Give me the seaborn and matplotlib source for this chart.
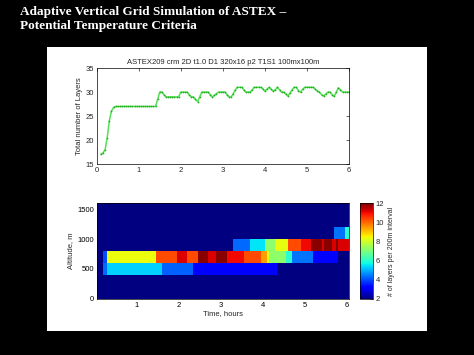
import numpy as np
import pandas as pd
import seaborn as sns
import matplotlib.pyplot as plt
from matplotlib.patches import Rectangle

# ---- top panel: total number of layers, sampled every 0.05 h from 0.10 h
t_start, t_step = 0.10, 0.05
n_layers = [
    17.0, 17.3, 18.0, 20.5, 24.0, 26.0, 26.8, 27.0,            # 0.10-0.45
    27, 27, 27, 27, 27, 27, 27, 27, 27, 27,                    # 0.50-0.95
    27, 27, 27, 27, 27, 27, 27, 27, 27,                        # 1.00-1.40
    28.5, 30, 30, 29.5, 29, 29, 29, 29, 29, 29, 29,            # 1.45-1.95
    30, 30, 30, 30, 29.5, 29, 29, 28.5, 28, 29,                # 2.00-2.45
    30, 30, 30, 30, 29.5, 29, 29.3, 29.7, 30, 30,              # 2.50-2.95
    30, 30, 29.5, 29, 29, 29.7, 30.5, 31, 31, 31,              # 3.00-3.45
    30.5, 30, 30, 30, 30.5, 31, 31, 31, 31, 30.7,              # 3.50-3.95
    30.2, 30.6, 31, 30.6, 30.2, 30.5, 31, 30.5, 30, 30,        # 4.00-4.45
    29.6, 29.2, 29.8, 30.5, 31, 31, 30.3, 30, 30.6, 31,        # 4.50-4.95
    31, 31, 31, 31, 30.6, 30.3, 30, 29.5, 29.2, 29.6,          # 5.00-5.45
    30, 30, 29.5, 29.1, 30, 30.9, 30.5, 30, 30, 30, 30,        # 5.50-6.00
]
hours = [round(t_start + t_step * i, 2) for i in range(len(n_layers))]

# ---- bottom panel: layers per 200 m interval, (start h, end h, count)
alt_edges = [0, 200, 400, 600, 800, 1000, 1200, 1400, 1600]
t_edges = [round(0.05 + 0.05 * i, 2) for i in range(121)]  # 0.05 .. 6.05
background = 2.0
row_400 = [(0.20, 0.30, 4.3), (0.30, 1.62, 5.3), (1.62, 2.37, 4.2),
           (2.37, 4.36, 3.1)]
row_600 = [(0.20, 0.30, 4.0), (0.30, 1.47, 8.35), (1.47, 1.95, 10.3),
           (1.95, 2.21, 11.2), (2.21, 2.47, 10.3), (2.47, 2.72, 11.9),
           (2.72, 2.88, 11.2), (2.88, 3.14, 11.9), (3.14, 3.53, 11.0),
           (3.53, 3.97, 10.3), (3.97, 4.09, 9.4), (4.09, 4.15, 8.3),
           (4.15, 4.54, 7.2), (4.54, 4.70, 6.0), (4.70, 5.19, 4.4),
           (5.19, 5.79, 3.2)]
row_800 = [(3.29, 3.71, 4.3), (3.71, 4.05, 5.5), (4.05, 4.28, 7.2),
           (4.28, 4.62, 8.3), (4.62, 4.88, 10.3), (4.88, 5.13, 11.0),
           (5.13, 5.39, 11.9), (5.39, 5.47, 11.2), (5.47, 5.63, 11.9),
           (5.63, 5.75, 11.2), (5.75, 5.81, 11.9), (5.81, 6.05, 11.2)]
row_1000 = [(5.71, 5.97, 4.4), (5.97, 6.05, 6.0)]
rows = {400: row_400, 600: row_600, 800: row_800, 1000: row_1000}

# build grid (rows = altitude bins, bottom first)
centers = np.array(t_edges[:-1]) + 0.025
grid = np.full((len(alt_edges) - 1, len(centers)), background)
for alt, segs in rows.items():
    r = alt_edges.index(alt)
    for a, b, v in segs:
        grid[r, (centers >= a) & (centers < b)] = v
df = pd.DataFrame(grid[::-1], index=alt_edges[-2::-1], columns=centers)

sns.set_style('white')
plt.rcParams['font.family'] = ['Liberation Sans', 'DejaVu Sans']
plt.rcParams['xtick.direction'] = 'in'
plt.rcParams['ytick.direction'] = 'in'

fig = plt.figure(figsize=(4.74, 3.55), dpi=100, facecolor='black')
fig.patches.append(Rectangle((0.0992, 0.0676), 0.8017, 0.80,
                             transform=fig.transFigure, facecolor='white',
                             edgecolor='none', zorder=-10))

fig.text(0.042, 0.982, 'Adaptive Vertical Grid Simulation of ASTEX \u2013\n'
         'Potential Temperature Criteria', color='white', fontsize=9.5,
         fontweight='bold', family='Liberation Serif', va='top',
         linespacing=1.15)

tick_fs = 5.5

# top line plot (MATLAB-style green dotted line)
ax1 = fig.add_axes([0.204, 0.538, 0.532, 0.270])
sns.lineplot(x=hours, y=n_layers, ax=ax1, color='#55e055', lw=1.1,
             marker='.', markersize=2.5, markeredgewidth=0,
             markerfacecolor='#20b020')
ax1.set_xlim(0, 6)
ax1.set_ylim(15, 35)
ax1.set_xticks(range(0, 7))
ax1.set_yticks(range(15, 36, 5))
ax1.set_ylabel('Total number of Layers', fontsize=5.5, labelpad=2)
ax1.set_title('ASTEX209 crm 2D t1.0 D1 320x16 p2 T1S1 100mx100m',
              fontsize=5.5, pad=3)
ax1.tick_params(labelsize=tick_fs, length=2, width=0.5, top=True,
                right=True, pad=2)
for s in ax1.spines.values():
    s.set_linewidth(0.5)
    s.set_color('black')

# bottom heatmap
ax2 = fig.add_axes([0.204, 0.158, 0.532, 0.270])
cax = fig.add_axes([0.7595, 0.158, 0.0268, 0.270])
sns.heatmap(df, ax=ax2, cmap='jet', vmin=2, vmax=12, cbar_ax=cax,
            xticklabels=False, yticklabels=False,
            cbar_kws={'ticks': [2, 4, 6, 8, 10, 12]})
ax2.set_xticks([(t - 0.05) / 0.05 for t in range(1, 7)])
ax2.set_xticklabels([str(t) for t in range(1, 7)], rotation=0)
ax2.set_yticks([(1600 - a) / 200 for a in (0, 500, 1000, 1500)])
ax2.set_yticklabels(['0', '500', '1000', '1500'], rotation=0)
ax2.set_xlabel('Time, hours', fontsize=5.5, labelpad=1)
ax2.set_ylabel('Altitude, m', fontsize=5.5, labelpad=2)
ax2.tick_params(labelsize=tick_fs, length=2, width=0.5, pad=2,
                color='white', labelcolor='black')
for s in ax2.spines.values():
    s.set_visible(True)
    s.set_linewidth(0.5)
    s.set_color('black')

cax.tick_params(labelsize=tick_fs, length=2, width=0.5, pad=2,
                direction='in')
cax.set_ylabel('# of layers per 200m interval', fontsize=5.0, labelpad=3)
cb = ax2.collections[0].colorbar
cb.outline.set_linewidth(0.5)
cb.outline.set_edgecolor('black')

fig.savefig('out.png', dpi=100, facecolor='black')
